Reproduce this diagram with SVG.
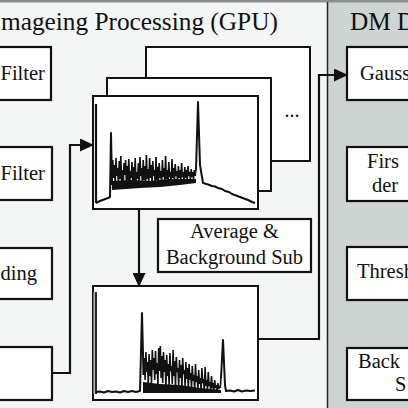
<svg xmlns="http://www.w3.org/2000/svg" width="408" height="408" viewBox="0 0 408 408">
<style>
.box{fill:#fff;stroke:#111;stroke-width:2.2}
.frame{fill:#fff;stroke:#111;stroke-width:2}
.txt{font-family:"Liberation Serif","Times New Roman",serif;font-size:20.5px;fill:#111}
.title{font-family:"Liberation Serif","Times New Roman",serif;font-size:25.3px;fill:#111}
.conn{fill:none;stroke:#111;stroke-width:2.2}
.sig{fill:none;stroke:#111;stroke-width:2;stroke-linejoin:round}
.zig{fill:none;stroke:#111;stroke-width:1.6;stroke-linejoin:miter;stroke-miterlimit:2}
.core{fill:#111}
</style>
<defs>
<marker id="arr" viewBox="0 0 14 13" refX="13" refY="6.5" markerWidth="14" markerHeight="13" markerUnits="userSpaceOnUse" orient="auto">
<path d="M0,0 L14,6.5 L0,13 Z" fill="#111"/>
</marker>
</defs>
<!-- backgrounds -->
<rect x="0" y="0" width="408" height="408" fill="#f4f6f6"/>
<rect x="328" y="0" width="80" height="408" fill="#cdd4d2"/>
<rect x="0" y="0" width="408" height="2.5" fill="#8c8f8f"/>
<line x1="327.5" y1="2" x2="327.5" y2="408" stroke="#222" stroke-width="1.5"/>
<text class="title" x="1" y="30">mageing Processing (GPU)</text>
<text class="title" x="350" y="30">DM D</text>

<!-- left column nodes -->
<g id="filter1">
<rect class="box" x="-10" y="47" width="61" height="53"/>
<text class="txt" x="0.5" y="80" font-size="19.5">Filter</text>
</g>
<g id="filter2">
<rect class="box" x="-10" y="147" width="62" height="53"/>
<text class="txt" x="0.5" y="180" font-size="19.5">Filter</text>
</g>
<g id="thresholding">
<rect class="box" x="-10" y="248" width="62" height="51"/>
<text class="txt" x="0.5" y="280" font-size="19.5">ding</text>
</g>
<g id="box4">
<rect class="box" x="-10" y="347" width="62" height="53"/>
</g>

<!-- image stack -->
<g id="image-stack">
<rect class="frame" x="146" y="47" width="164" height="114"/>
<rect class="frame" x="107" y="78" width="164" height="113"/>
<rect class="frame" x="93" y="96" width="165" height="113"/>
<text x="292" y="117" font-family="Liberation Serif, serif" font-size="20" text-anchor="middle" fill="#111">...</text>
<line x1="96" y1="104" x2="96" y2="203" stroke="#111" stroke-width="2.2"/>
<polyline class="sig" points="96,203 100,201 104,199.5 108,198 110,197 111,133 112,185"/>
<polygon class="core" points="112,181 130,180 150,181 170,179 196,179 196,183 180,185 160,187 140,188 112,190"/>
<polyline class="zig" points="112,185 112.8,160 113.6,178 114.4,165 115.2,183 116,158 116.8,176 117.6,168 118.4,186 119.2,161 120,179 120.8,156 121.6,182 122.4,170 123.2,187 124,163 124.8,175 125.6,160 126.4,184 127.2,166 128,180 128.8,159 129.6,185 130.4,171 131.2,178 132,162 132.8,186 133.6,167 134.4,181 135.2,158 136,183 136.8,172 137.6,179 138.4,163 139.2,187 140,157 140.8,176 141.6,168 142.4,184 143.2,160 144,180 144.8,166 145.6,186 146.4,155 147.2,179 148,169 148.8,183 149.6,158 150.4,178 151.2,165 152,185 152.8,161 153.6,176 154.4,170 155.2,184 156,157 156.8,180 157.6,167 158.4,183 159.2,163 160,178 160.8,171 161.6,185 162.4,160 163.2,177 164,168 164.8,183 165.6,156 166.4,179 167.2,170 168,184 168.8,162 169.6,177 170.4,172 171.2,183 172,159 172.8,178 173.6,168 174.4,182 175.2,164 176,176 176.8,171 177.6,182 178.4,166 179.2,178 180,170 180.8,181 181.6,163 182.4,177 183.2,172 184,181 184.8,167 185.6,178 186.4,170 187.2,180 188,166 188.8,176 189.6,172 190.4,180 191.2,169 192,177 192.8,172 193.6,179 194.4,170 195.2,176 196,168"/>
<polyline class="sig" points="196,170 198,102 200,165 203,183 208,184.5 212,186 215,186.5 218,188 222,189 225,191 229,192 232,194 236,195.5 240,197 244,198.5 248,200 252,202 255,203"/>
</g>

<g id="average-background-sub">
<rect class="box" x="158" y="219" width="153" height="53" stroke-width="2.6"/>
<text class="txt" x="234.5" y="238" text-anchor="middle">Average &amp;</text>
<text class="txt" x="234.5" y="264" text-anchor="middle">Background Sub</text>
</g>

<g id="result-image">
<rect class="frame" x="93" y="286" width="165" height="114"/>
<line x1="94" y1="292" x2="94" y2="394" stroke="#999" stroke-width="1.5"/>
<line x1="96" y1="292" x2="96" y2="394" stroke="#111" stroke-width="1.8"/>
<polyline class="sig" points="96,392 100,391.5 104,392.5 108,391 112,392 116,391.5 120,392.5 124,391 128,392 132,391 136,392 140,391 142,313 143.5,375"/>
<polygon class="core" points="143,382 160,384 180,385 200,388 221,390 221,393 143,393"/>
<polyline class="zig" points="143.5,375 144.3,358 145.1,380 145.9,352 146.7,372 147.5,362 148.3,385 149.1,354 149.9,376 150.7,360 151.5,383 152.3,350 153.1,370 153.9,358 154.7,380 155.5,351 156.3,374 157.1,363 157.9,386 158.7,348 159.5,371 160.3,346 161.1,378 161.9,356 162.7,383 163.5,352 164.3,372 165.1,360 165.9,388 166.7,355 167.5,376 168.3,364 169.1,385 169.9,353 170.7,371 171.5,366 172.3,384 173.1,350 173.9,376 174.7,361 175.5,387 176.3,357 177.1,372 177.9,368 178.7,386 179.5,360 180.3,378 181.1,365 181.9,388 182.7,358 183.5,374 184.3,370 185.1,386 185.9,362 186.7,379 187.5,368 188.3,389 189.1,364 189.9,380 190.7,373 191.5,388 192.3,366 193.1,381 193.9,375 194.7,390 195.5,364 196.3,382 197.1,376 197.9,389 198.7,370 199.5,384 200.3,378 201.1,390 201.9,368 202.7,383 203.5,379 204.3,391 205.1,367 205.9,386 206.7,380 207.5,390 208.3,372 209.1,386 209.9,382 210.7,391 211.5,376 212.3,388 213.1,383 213.9,391 214.7,380 215.5,388 216.3,385 217.1,391 217.9,383 218.7,389 219.5,386 220.3,388 221,378"/>
<polyline class="sig" points="221,378 223,340 225,385 226,391 230,390.5 234,391.5 238,390 242,391.5 246,390.5 250,391 255,390.5"/>
</g>

<!-- right column nodes -->
<g id="gaussian">
<rect class="box" x="347" y="47" width="75" height="53"/>
<text class="txt" x="360" y="80">Gauss</text>
</g>
<g id="first-derivative">
<rect class="box" x="347" y="147" width="75" height="54"/>
<text class="txt" x="367" y="168">Firs</text>
<text class="txt" x="372" y="192">der</text>
</g>
<g id="threshold">
<rect class="box" x="347" y="247" width="75" height="53"/>
<text class="txt" x="357" y="278">Thresh</text>
</g>
<g id="back-projection">
<rect class="box" x="347" y="348" width="75" height="52"/>
<text class="txt" x="358" y="368">Back</text>
<text class="txt" x="395" y="391">S</text>
</g>

<!-- connectors -->
<g id="connectors">
<polyline class="conn" points="52,373 70,373 70,145 93,145" marker-end="url(#arr)"/>
<line class="conn" x1="139" y1="210" x2="139" y2="286" marker-end="url(#arr)"/>
<polyline class="conn" points="258,339 319,339 319,75 347,75" marker-end="url(#arr)"/>
</g>
</svg>
